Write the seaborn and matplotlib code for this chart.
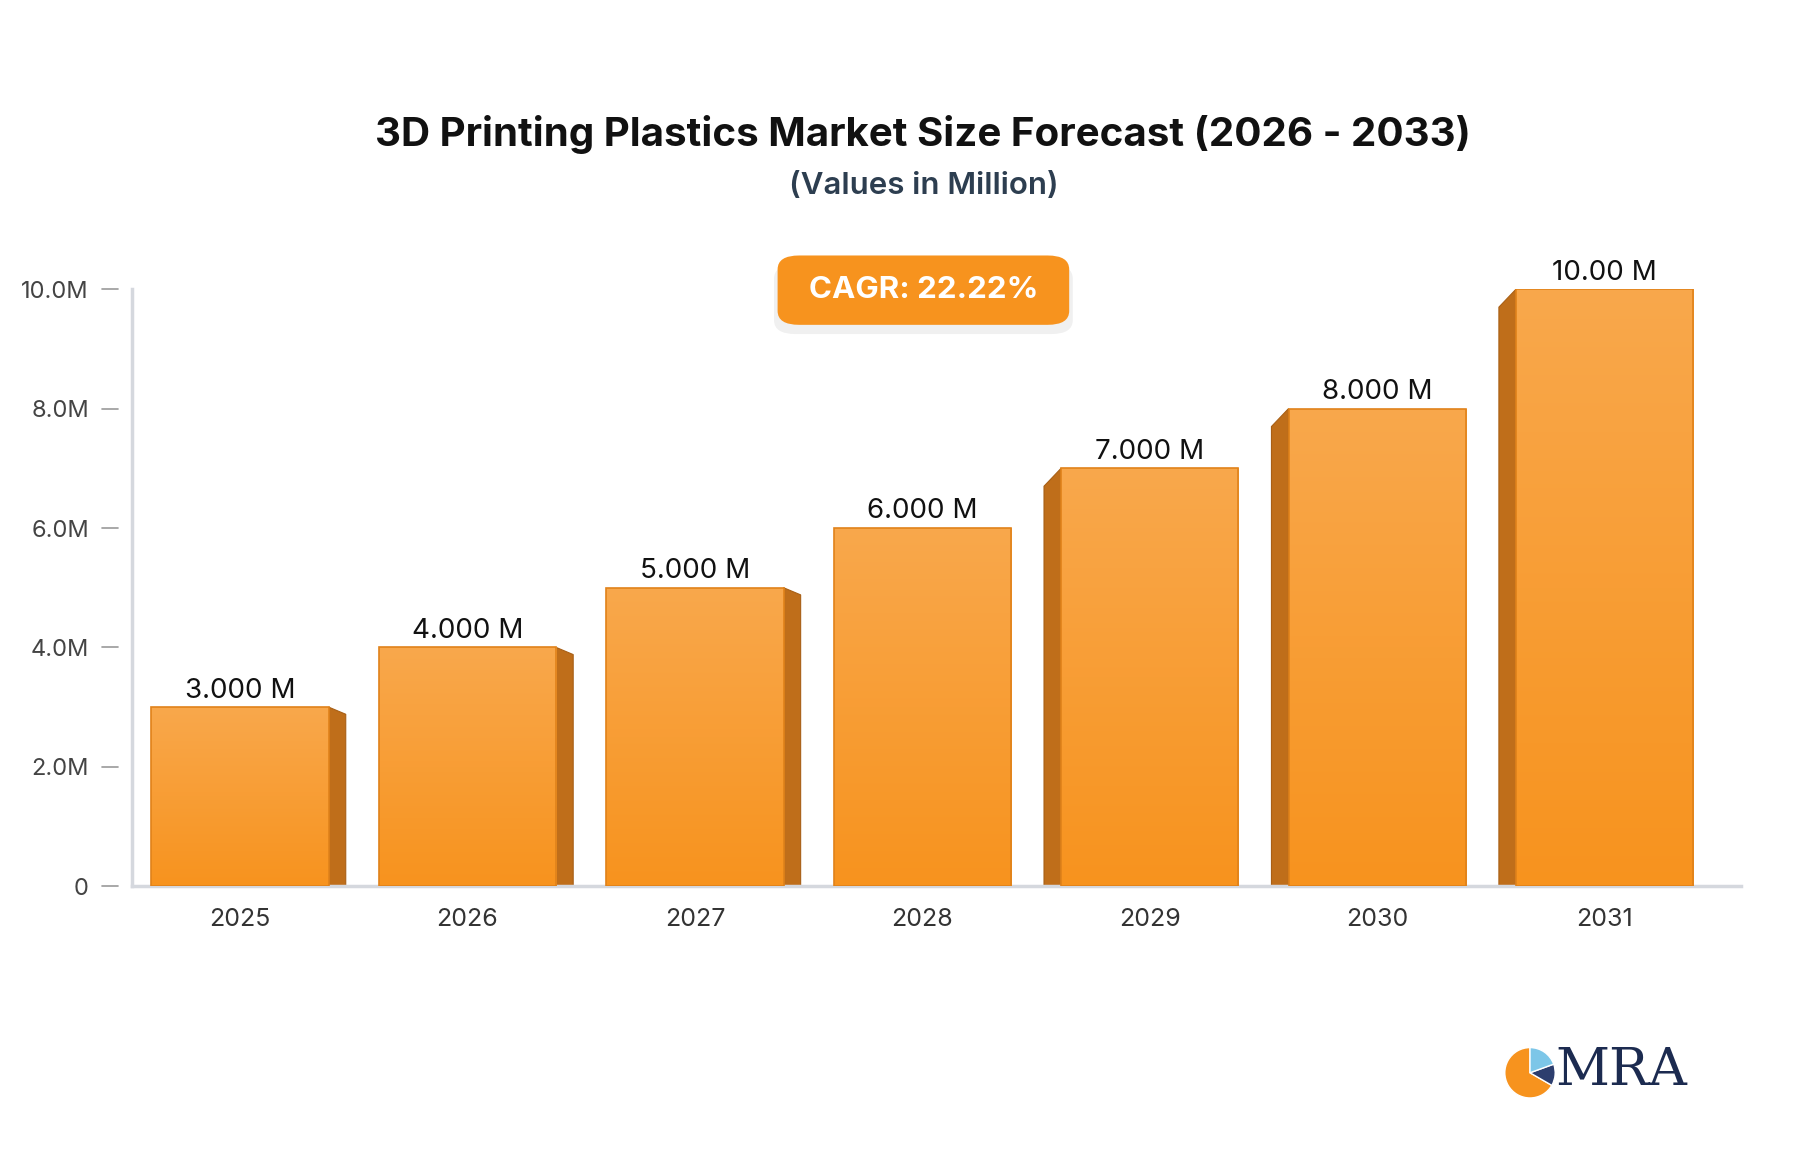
import matplotlib
matplotlib.use("Agg")
import matplotlib.pyplot as plt
import seaborn as sns
import numpy as np
import pandas as pd
from matplotlib.patches import Polygon, FancyBboxPatch, Wedge
from matplotlib.colors import LinearSegmentedColormap

years = ["2025", "2026", "2027", "2028", "2029", "2030", "2031"]
values = [3.0, 4.0, 5.0, 6.0, 7.0, 8.0, 10.0]
labels = ["3.000 M", "4.000 M", "5.000 M", "6.000 M", "7.000 M", "8.000 M", "10.00 M"]
yticks = [0, 2, 4, 6, 8, 10]
ytick_labels = ["0", "2.0M", "4.0M", "6.0M", "8.0M", "10.0M"]

sns.set_theme(style="white")
plt.rcParams['font.family'] = ['Inter', 'DejaVu Sans']

fig = plt.figure(figsize=(18, 11.56), dpi=100)
ax = fig.add_axes([0.0733, 0.2334, 0.894, 0.5164])
df = pd.DataFrame({"year": years, "value": values})
sns.barplot(data=df, x="year", y="value", ax=ax, width=0.78, color="#F7931E", saturation=1)
ax.set_xlim(-0.475, 6.6)
ax.set_ylim(0, 10)

grad = np.linspace(0, 1, 256).reshape(-1, 1)
cmap = LinearSegmentedColormap.from_list("g", ["#F7931E", "#F9A84C"])
depth = 0.075
for i, p in enumerate(ax.patches):
    x0, w, h = p.get_x(), p.get_width(), p.get_height()
    p.set_facecolor("none"); p.set_edgecolor("#E0821A"); p.set_linewidth(1.2); p.set_zorder(4)
    im = ax.imshow(grad, cmap=cmap, aspect="auto", extent=[x0, x0 + w, 0, h], origin="lower", zorder=3)
    im.set_clip_path(p)
    if i < 3:
        poly = [(x0 + w, 0), (x0 + w, h), (x0 + w + depth, h - 0.12), (x0 + w + depth, 0)]
    elif i > 3:
        poly = [(x0, 0), (x0, h), (x0 - depth, h - 0.3), (x0 - depth, 0)]
    else:
        poly = None
    if poly:
        ax.add_patch(Polygon(poly, closed=True, facecolor="#BF6E1A", edgecolor="#A85F15", lw=0.8, zorder=2))
    ax.text(x0 + w / 2, h + 0.06, labels[i], ha="center", va="bottom", fontsize=20, color="#111", zorder=5)

ax.set_yticks(yticks)
ax.set_yticklabels(ytick_labels)
ax.set_xlabel(""); ax.set_ylabel("")
ax.tick_params(axis="y", length=0, labelsize=17, labelcolor="#444", pad=31, left=False)
for t in yticks:
    ax.plot([-0.475 - 0.13, -0.475 - 0.06], [t, t], color="#999", lw=1.2, clip_on=False, zorder=6)
ax.tick_params(axis="x", length=0, labelsize=18, labelcolor="#333", pad=16)
for s in ["top", "right"]:
    ax.spines[s].set_visible(False)
ax.spines["left"].set_color("#D5D8DE"); ax.spines["left"].set_linewidth(2.5)
ax.spines["bottom"].set_color("#D5D8DE"); ax.spines["bottom"].set_linewidth(2.5)
ax.spines["left"].set_zorder(6)

fig.text(0.513, 0.884, "3D Printing Plastics Market Size Forecast (2026 - 2033)", ha="center", va="center",
         fontsize=29, fontweight="bold", color="#111")
fig.text(0.513, 0.839, "(Values in Million)", ha="center", va="center", fontsize=22.5, color="#2D3E50", fontweight="semibold")

bw, bh = 0.162, 0.06
cy = 0.749
shadow = FancyBboxPatch((0.513 - bw / 2 - 0.002, cy - bh / 2 - 0.008), bw + 0.004, bh, boxstyle="round,pad=0,rounding_size=0.012",
                        transform=fig.transFigure, facecolor="#000000", alpha=0.06, edgecolor="none", zorder=9)
box = FancyBboxPatch((0.513 - bw / 2, cy - bh / 2), bw, bh, boxstyle="round,pad=0,rounding_size=0.012",
                     transform=fig.transFigure, facecolor="#F7931E", edgecolor="none", zorder=10)
fig.patches.extend([shadow, box])
fig.text(0.513, cy, "CAGR: 22.22%", ha="center", va="center", fontsize=22.5, fontweight="bold", color="white", zorder=11)

# logo
lax = fig.add_axes([0.836, 0.05, 0.028, 0.044])
lax.set_xlim(-1, 1); lax.set_ylim(-1, 1); lax.axis("off"); lax.set_aspect("equal")
lax.add_patch(Wedge((0, 0), 1, 90, 330, facecolor="#F7931E"))
lax.add_patch(Wedge((0, 0), 1, -30, 20, facecolor="#2D3E6E"))
lax.add_patch(Wedge((0, 0), 1, 20, 90, facecolor="#7CC6E8"))
fig.text(0.864, 0.074, "MRA", ha="left", va="center", fontsize=38, family="DejaVu Serif", color="#1C2B50")

fig.savefig("out.png", dpi=100, facecolor="white")
